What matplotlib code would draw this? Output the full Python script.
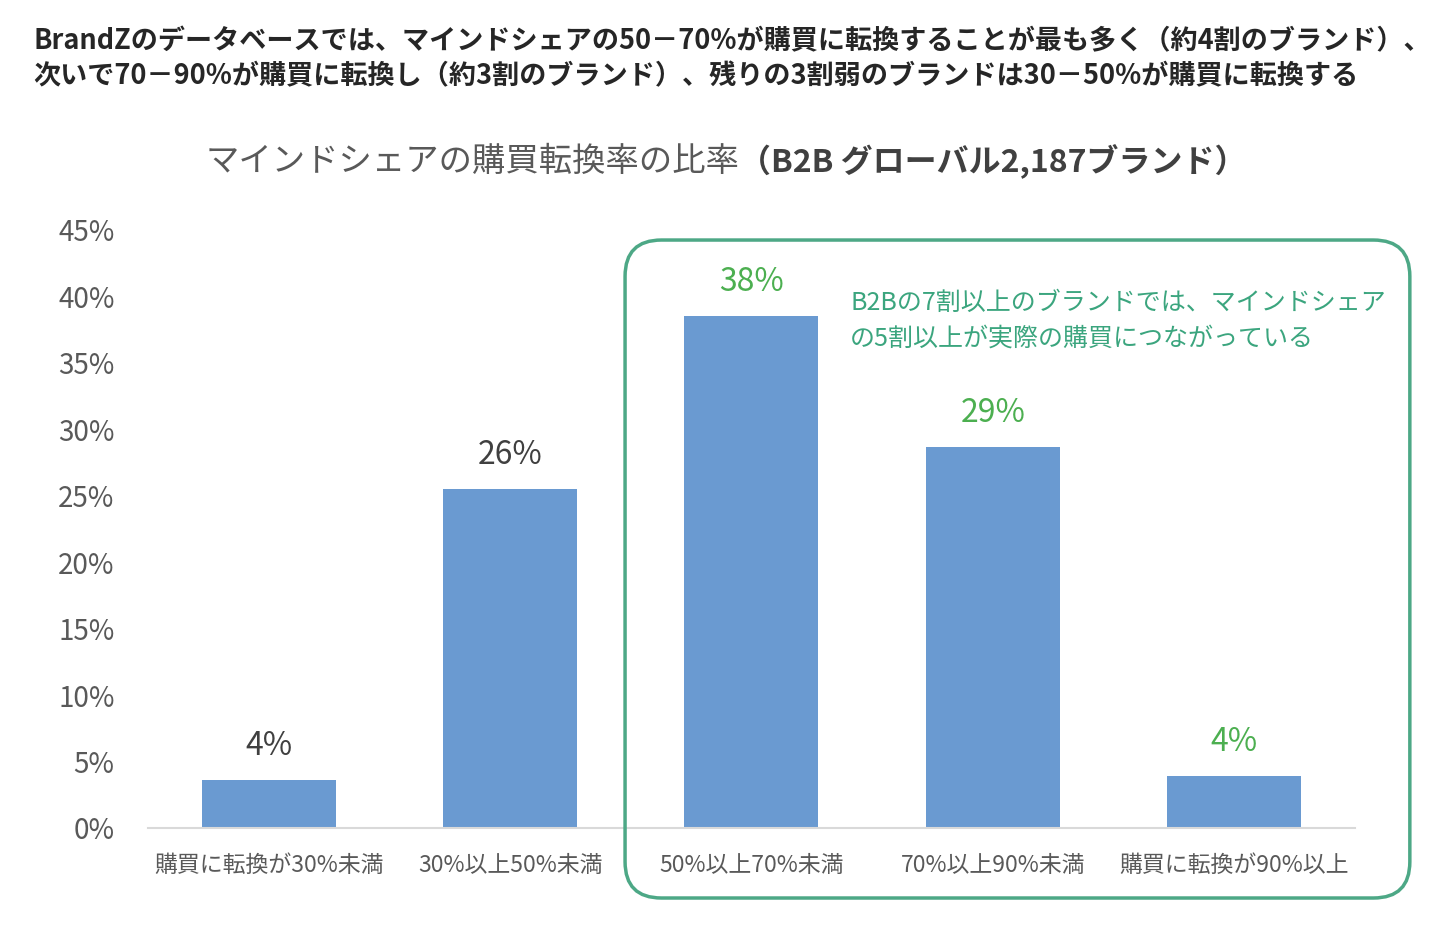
import matplotlib
matplotlib.use('Agg')
import matplotlib.pyplot as plt
from matplotlib.patches import FancyBboxPatch

plt.rcParams['font.family'] = ['Noto Sans CJK JP', 'DejaVu Sans']

# データ
categories = ['購買に転換が30%未満', '30%以上50%未満', '50%以上70%未満', '70%以上90%未満', '購買に転換が90%以上']
values = [3.6, 25.5, 38.5, 28.7, 3.9]
labels = ['4%', '26%', '38%', '29%', '4%']
label_colors = ['#404040', '#404040', '#4CAF50', '#4CAF50', '#4CAF50']
yticks = [0, 5, 10, 15, 20, 25, 30, 35, 40, 45]

header = ('BrandZのデータベースでは、マインドシェアの50－70%が購買に転換することが最も多く（約4割のブランド）、\n'
          '次いで70－90%が購買に転換し（約3割のブランド）、残りの3割弱のブランドは30－50%が購買に転換する')
title_a = 'マインドシェアの購買転換率の比率'
title_b = '（B2B グローバル2,187ブランド）'
note = 'B2Bの7割以上のブランドでは、マインドシェア\nの5割以上が実際の購買につながっている'

fig = plt.figure(figsize=(14.56, 9.3), dpi=100)
ax = fig.add_axes([0.1016, 0.1097, 0.829, 0.643])

x = range(len(categories))
ax.bar(x, values, width=0.555, color='#6A9AD1')
for i, v in enumerate(values):
    ax.annotate(labels[i], (i, v), xytext=(0, 13), textcoords='offset points',
                ha='center', va='bottom', fontsize=23, color=label_colors[i])

ax.set_xlim(-0.5, 4.5)
ax.set_ylim(0, 45)
ax.set_yticks(yticks)
ax.set_yticklabels([f'{t}%' for t in yticks], fontsize=20, color='#595959')
ax.set_xticks(list(x))
ax.set_xticklabels(categories, fontsize=16.5, color='#595959')
ax.tick_params(axis='y', length=0, pad=24)
ax.tick_params(axis='x', length=0, pad=19)
for s in ['top', 'right', 'left']:
    ax.spines[s].set_visible(False)
ax.spines['bottom'].set_color('#D9D9D9')
ax.spines['bottom'].set_linewidth(1.5)

# 見出し
fig.text(0.023, 0.971, header, fontsize=19.5, fontweight='bold', color='#262626',
         va='top', ha='left', linespacing=1.32)

# グラフタイトル
t1 = fig.text(0.141, 0.826, title_a, fontsize=24, color='#595959', va='center', ha='left')
ax.annotate(title_b, xy=(1, 0.5), xycoords=t1, va='center', ha='left',
            fontsize=23, fontweight='bold', color='#404040', annotation_clip=False)

# 緑の枠
box = FancyBboxPatch((0.4293, 0.0344), 0.539, 0.7075, boxstyle='round,pad=0,rounding_size=0.025',
                     transform=fig.transFigure, fill=False, edgecolor='#4DA886', linewidth=2.5,
                     mutation_aspect=1.56)
fig.patches.append(box)

fig.text(0.584, 0.655, note, fontsize=18, color='#3BA57E', va='center', ha='left', linespacing=1.45)

fig.savefig('out.png', dpi=100)
